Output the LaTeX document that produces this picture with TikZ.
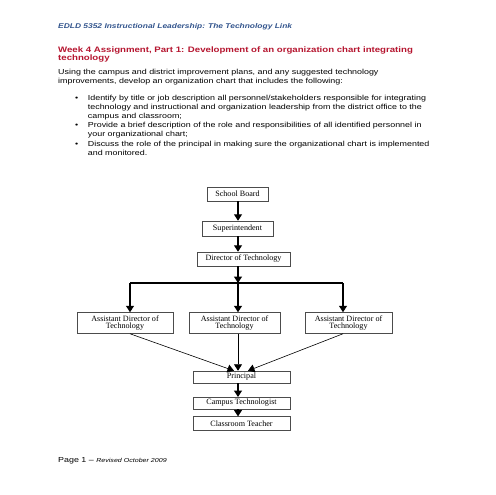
\documentclass[tikz,border=0pt]{standalone}
\usepackage{fontspec}
\setmainfont{Liberation Serif}
\newfontfamily\arialfont[FakeStretch=1.22]{Liberation Sans}
\usetikzlibrary{arrows.meta}
\definecolor{headblue}{RGB}{52,86,142}
\definecolor{titlered}{RGB}{182,22,48}

\begin{document}
\begin{tikzpicture}[x=1pt,y=-1pt]
\useasboundingbox[fill=white] (0,0) rectangle (495,495);
% page text (each node sits on the baseline of its last line)
\begin{scope}[every node/.style={anchor=base west,inner sep=0pt,align=left,
              font=\arialfont\fontsize{7.3}{8.9}\selectfont}]
    \node[headblue,font=\arialfont\bfseries\itshape\fontsize{6.9}{8}\selectfont] (header) at (58,28.5)
        {EDLD 5352 Instructional Leadership: The Technology Link};
    \node[titlered,font=\arialfont\bfseries\fontsize{7.9}{8.7}\selectfont] (title) at (58,61)
        {Week 4 Assignment, Part 1: Development of an organization chart integrating\\technology};
    \node (intro) at (58,83)
        {Using the campus and district improvement plans, and any suggested technology\\
         improvements, develop an organization chart that includes the following:};
    \node (b1) at (75,100) {\textbullet};
    \node (t1) at (87.7,118)
        {Identify by title or job description all personnel/stakeholders responsible for integrating\\
         technology and instructional and organization leadership from the district office to the\\
         campus and classroom;};
    \node (b2) at (75,127.7) {\textbullet};
    \node (t2) at (87.7,136.7)
        {Provide a brief description of the role and responsibilities of all identified personnel in\\
         your organizational chart;};
    \node (b3) at (75,146) {\textbullet};
    \node (t3) at (87.7,155)
        {Discuss the role of the principal in making sure the organizational chart is implemented\\
         and monitored.};
    \node (footer) at (58,462)
        {Page 1 – {\itshape\fontsize{5.8}{7}\selectfont Revised October 2009}};
\end{scope}
% chart boxes
\begin{scope}[every node/.style={draw=black!70,line width=0.5pt,inner sep=1pt,align=center,
              font=\fontsize{8.1}{7.8}\selectfont}]
    \node[minimum width=61pt,minimum height=14pt] (board) at (237.5,194) {School Board};
    \node[minimum width=71pt,minimum height=15pt] (super) at (237.5,228.5) {Superintendent};
    \node[minimum width=93pt,minimum height=14pt] (director) at (243.5,259) {Director of Technology};
    \node[minimum width=96pt,minimum height=21pt] (asst1) at (125,323) {Assistant Director of\\Technology};
    \node[minimum width=91pt,minimum height=21pt] (asst2) at (234.5,323) {Assistant Director of\\Technology};
    \node[minimum width=87pt,minimum height=21pt] (asst3) at (348.5,323) {Assistant Director of\\Technology};
    \node[minimum width=97pt,minimum height=12pt] (principal) at (241.5,377) {Principal};
    \node[minimum width=97pt,minimum height=11.5pt] (campus) at (241.5,403) {Campus Technologist};
    \node[minimum width=97pt,minimum height=14pt] (teacher) at (241.5,423.7) {Classroom Teacher};
\end{scope}
\coordinate (busL) at (130,283);
\coordinate (busM) at (238,283);
\coordinate (busR) at (343,283);
% connectors
\begin{scope}[every path/.style={draw=black,line width=1.2pt,-{Triangle[length=6.5pt,width=8pt]}}]
    \path (board.south -| busM) -- (super.north -| busM);
    \path (super.south -| busM) -- (director.north -| busM);
    \path (director.south -| busM) -- (busM);
    \path (busL) -- (busL |- asst1.north);
    \path (busM) -- (busM |- asst2.north);
    \path (busR) -- (busR |- asst3.north);
    \path (principal.south -| busM) -- (campus.north -| busM);
    \path (campus.south -| busM) -- (teacher.north -| busM);
\end{scope}
\draw[line width=1.2pt] (busL) -- (busR);
\begin{scope}[every path/.style={draw=black,line width=0.6pt,-{Triangle[length=6.5pt,width=8pt]}}]
    \path (asst1.south -| busL) -- (principal.north -| 234,0);
    \path (asst2.south -| busM) -- (principal.north -| busM);
    \path (asst3.south -| busR) -- (principal.north -| 248,0);
\end{scope}
\end{tikzpicture}
\end{document}
